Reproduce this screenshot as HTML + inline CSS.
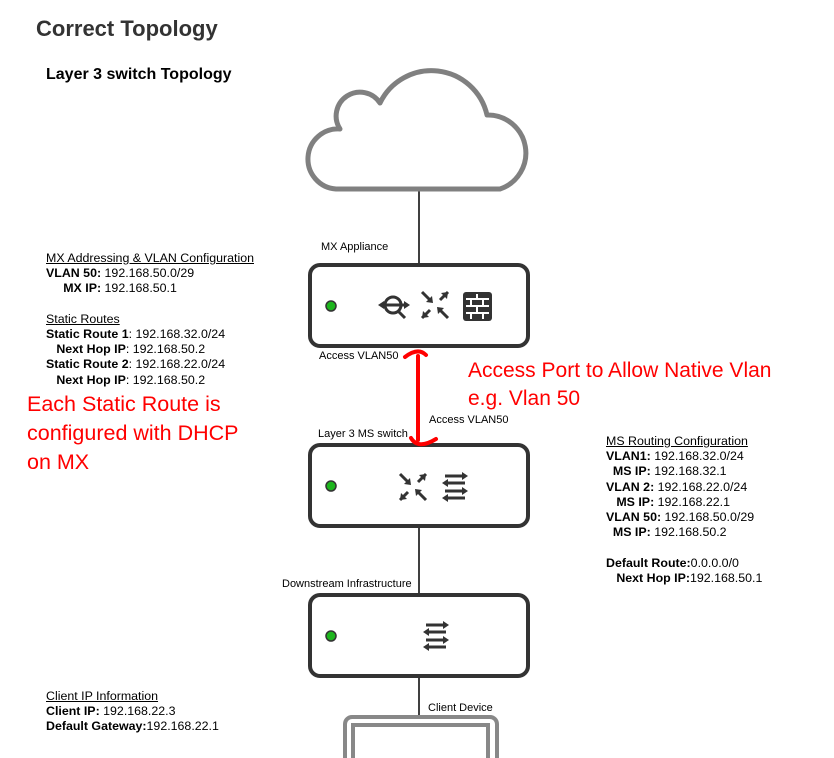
<!DOCTYPE html>
<html><head><meta charset="utf-8"><style>
body{margin:0;background:#fff;width:834px;height:758px;overflow:hidden;position:relative;font-family:"Liberation Sans",Arial,sans-serif;}
.t{position:absolute;font-size:12.4px;line-height:15.2px;color:#000;white-space:pre;}
.u{text-decoration:underline;}
.r{position:absolute;color:#f00;font-family:"Liberation Sans",sans-serif;font-size:21px;white-space:pre;}
svg{position:absolute;left:0;top:0;}
</style></head><body>
<svg width="834" height="758" viewBox="0 0 834 758">
<defs>
<g id="cmp" stroke="#333" stroke-width="3" fill="#333">
<line x1="-13" y1="-13" x2="-4" y2="-4"/><polygon points="-2,-2 -9,-3 -3,-9" stroke="none"/>
<line x1="13" y1="-13" x2="5" y2="-5"/><polygon points="13,-13 6,-12 12,-6" stroke="none"/>
<line x1="-13" y1="13" x2="-5" y2="5"/><polygon points="-13,13 -12,6 -6,12" stroke="none"/>
<line x1="13" y1="13" x2="4" y2="4"/><polygon points="2,2 9,3 3,9" stroke="none"/>
</g>
<g id="sw" stroke="#333" stroke-width="3" fill="#333">
<line x1="-10" y1="-11" x2="8" y2="-11"/><polygon points="13,-11 7,-15 7,-7" stroke="none"/>
<line x1="-8" y1="-4" x2="10" y2="-4"/><polygon points="-13,-4 -7,-8 -7,0" stroke="none"/>
<line x1="-10" y1="4" x2="8" y2="4"/><polygon points="13,4 7,0 7,8" stroke="none"/>
<line x1="-8" y1="11" x2="10" y2="11"/><polygon points="-13,11 -7,7 -7,15" stroke="none"/>
</g>
</defs>
<g stroke="#000" stroke-width="1.5">
<line x1="419" y1="191" x2="419" y2="264"/>
<line x1="419" y1="527" x2="419" y2="594"/>
<line x1="419" y1="677" x2="419" y2="716"/>
</g>
<path d="M336 189 A29 29 0 0 1 340 129 A22 22 0 0 1 380 103 A57 57 0 0 1 487 115 A38 38 0 0 1 500 189 Z" fill="#fff" stroke="#808080" stroke-width="5" stroke-linejoin="round"/>
<g fill="#fff" stroke="#333" stroke-width="4">
<rect x="310" y="265" width="218" height="81" rx="10"/>
<rect x="310" y="445" width="218" height="81" rx="10"/>
<rect x="310" y="595" width="218" height="81" rx="10"/>
</g>
<g fill="#1db51d" stroke="#333" stroke-width="1.5">
<circle cx="331" cy="306" r="5"/><circle cx="331" cy="486" r="5"/><circle cx="331" cy="636" r="5"/>
</g>
<g stroke="#333" stroke-width="3" fill="none">
<circle cx="393" cy="305" r="8"/>
<line x1="380" y1="305" x2="408" y2="305"/>
<line x1="398" y1="311" x2="405" y2="318"/>
</g>
<polygon points="378,305 384,301 384,309" fill="#333"/>
<polygon points="410,305 404,301 404,309" fill="#333"/>
<use href="#cmp" x="435" y="305"/>
<rect x="463" y="292" width="29" height="29" rx="3" fill="#333"/>
<g stroke="#fff" stroke-width="2">
<line x1="466" y1="299" x2="489" y2="299"/><line x1="466" y1="306" x2="489" y2="306"/><line x1="466" y1="313" x2="489" y2="313"/>
<line x1="477" y1="294" x2="477" y2="299"/><line x1="471" y1="299" x2="471" y2="306"/><line x1="483" y1="299" x2="483" y2="306"/>
<line x1="477" y1="306" x2="477" y2="313"/><line x1="471" y1="313" x2="471" y2="319"/><line x1="483" y1="313" x2="483" y2="319"/>
</g>
<use href="#cmp" x="413" y="487"/>
<use href="#sw" x="455" y="487"/>
<use href="#sw" x="436" y="636"/>
<rect x="345" y="717" width="152" height="60" rx="7" fill="#fff" stroke="#888" stroke-width="4"/>
<rect x="353" y="725" width="135" height="50" fill="none" stroke="#888" stroke-width="4"/>
<g stroke="#f00" stroke-width="4" fill="none" stroke-linecap="round">
<line x1="418" y1="356" x2="418" y2="440"/>
<path d="M405 357 Q418 347 426 355"/>
<path d="M411 438 Q418 450 436 439"/>
</g>
</svg>
<div style="position:absolute;left:36px;top:16px;font-size:22px;font-weight:bold;color:#333;">Correct Topology</div>
<div style="position:absolute;left:46px;top:66px;font-size:16px;font-weight:bold;">Layer 3 switch Topology</div>
<div class="t" style="left:321px;top:240px;font-size:11px">MX Appliance</div>
<div class="t" style="left:319px;top:349px;font-size:11px">Access VLAN50</div>
<div class="t" style="left:429px;top:413px;font-size:11px">Access VLAN50</div>
<div class="t" style="left:318px;top:427px;font-size:11px">Layer 3 MS switch</div>
<div class="t" style="left:282px;top:577px;font-size:11px">Downstream Infrastructure</div>
<div class="t" style="left:428px;top:701px;font-size:11px">Client Device</div>
<div class="t" style="left:46px;top:251px"><span class="u">MX Addressing &amp; VLAN Configuration</span>
<b>VLAN 50:</b> 192.168.50.0/29
     <b>MX IP:</b> 192.168.50.1

<span class="u">Static Routes</span>
<b>Static Route 1</b>: 192.168.32.0/24
   <b>Next Hop IP</b>: 192.168.50.2
<b>Static Route 2</b>: 192.168.22.0/24
   <b>Next Hop IP</b>: 192.168.50.2</div>
<div class="t" style="left:606px;top:434px"><span class="u">MS Routing Configuration</span>
<b>VLAN1:</b> 192.168.32.0/24
  <b>MS IP:</b> 192.168.32.1
<b>VLAN 2:</b> 192.168.22.0/24
   <b>MS IP:</b> 192.168.22.1
<b>VLAN 50:</b> 192.168.50.0/29
  <b>MS IP:</b> 192.168.50.2

<b>Default Route:</b>0.0.0.0/0
   <b>Next Hop IP:</b>192.168.50.1</div>
<div class="t" style="left:46px;top:689px"><span class="u">Client IP Information</span>
<b>Client IP:</b> 192.168.22.3
<b>Default Gateway:</b>192.168.22.1</div>
<div class="r" style="left:468px;top:357px;line-height:28px">Access Port to Allow Native Vlan
e.g. Vlan 50</div>
<div class="r" style="left:27px;top:390px;line-height:29px;font-size:21.5px">Each Static Route is
configured with DHCP
on MX</div>
</body></html>
